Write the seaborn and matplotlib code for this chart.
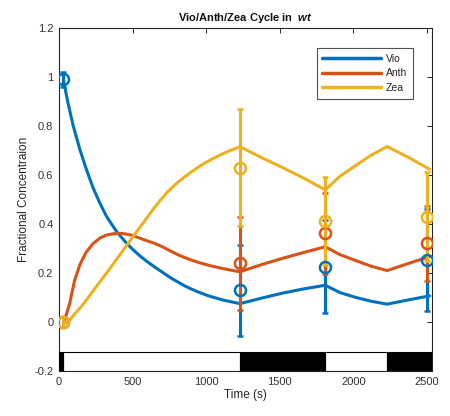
import numpy as np
import pandas as pd
import matplotlib
matplotlib.use("Agg")
import matplotlib.pyplot as plt
import seaborn as sns
from matplotlib.ticker import FuncFormatter

# ---- model curves ----
vio_t = [30, 57, 97, 143, 188, 233, 279, 324, 392, 460, 500, 550, 600, 664, 760, 856, 935, 1020, 1120, 1230,
         1380, 1520, 1670, 1810, 1910, 2020, 2120, 2230, 2380, 2520]
vio_v = [0.99, 0.906, 0.80, 0.702, 0.62, 0.546, 0.484, 0.43, 0.369, 0.321, 0.297, 0.27, 0.246, 0.219, 0.18,
         0.147, 0.125, 0.106, 0.089, 0.075, 0.098, 0.118, 0.136, 0.15, 0.12, 0.10, 0.085, 0.073, 0.091, 0.107]

anth_t = [30, 38, 55, 73, 90, 107, 143, 185, 233, 280, 324, 370, 426, 490, 550, 605, 650, 700, 760,
          822, 885, 950, 1020, 1100, 1165, 1230, 1380, 1520, 1670, 1810, 1910, 2020, 2120, 2230, 2380, 2520]
anth_v = [0.0, 0.008, 0.04, 0.076, 0.125, 0.171, 0.235, 0.285, 0.321, 0.343, 0.355, 0.36, 0.362, 0.355,
          0.342, 0.33, 0.321, 0.308, 0.289, 0.271, 0.256, 0.243, 0.231, 0.22, 0.212, 0.205, 0.235, 0.26,
          0.285, 0.307, 0.275, 0.25, 0.228, 0.21, 0.24, 0.267]

zea_t = [30, 50, 75, 107, 150, 197, 240, 288, 346, 400, 460, 515, 573, 630, 686, 740, 800, 856, 935, 990,
         1050, 1140, 1230, 1380, 1520, 1670, 1810, 1910, 2020, 2120, 2230, 2380, 2520]
zea_v = [0.0, -0.004, 0.01, 0.033, 0.062, 0.098, 0.133, 0.172, 0.218, 0.263, 0.312, 0.358, 0.405, 0.452,
         0.495, 0.532, 0.566, 0.593, 0.627, 0.648, 0.668, 0.694, 0.715, 0.67, 0.63, 0.585, 0.539, 0.595, 0.64,
         0.68, 0.716, 0.67, 0.623]

# ---- measured points with error bars ----
meas_t = [30, 1230, 1810, 2500]
vio_mean = [0.99, 0.13, 0.226, 0.253]
vio_err = [0.03, 0.185, 0.19, 0.207]
anth_mean = [0.0, 0.24, 0.362, 0.321]
anth_err = [0.02, 0.19, 0.166, 0.154]
zea_mean = [0.0, 0.63, 0.413, 0.43]
zea_err = [0.02, 0.24, 0.18, 0.183]

# ---- light/dark schedule bar ----
dark_segments = [(0, 30), (1230, 1810), (2230, 2535)]
light_segments = [(30, 1230), (1810, 2230)]

series_names = ["Vio", "Anth", "Zea"]
colors = {"Vio": "#0072BD", "Anth": "#D95319", "Zea": "#EDB120"}

sns.set_style("white")
plt.rcParams["font.family"] = ["Liberation Sans", "DejaVu Sans"]
plt.rcParams["mathtext.fontset"] = "custom"
plt.rcParams["mathtext.bfit"] = "Liberation Sans:bold:italic"
plt.rcParams["lines.solid_joinstyle"] = "round"

curves = pd.concat([
    pd.DataFrame({"t": vio_t, "v": vio_v, "s": "Vio"}),
    pd.DataFrame({"t": anth_t, "v": anth_v, "s": "Anth"}),
    pd.DataFrame({"t": zea_t, "v": zea_v, "s": "Zea"}),
])

fig = plt.figure(figsize=(4.5, 4.16), dpi=100)
ax = fig.add_axes([0.131, 0.108, 0.829, 0.825])

sns.lineplot(data=curves, x="t", y="v", hue="s", palette=colors, hue_order=series_names,
             linewidth=2.2, ax=ax, sort=False, estimator=None)

for name, m, e in [("Vio", vio_mean, vio_err), ("Anth", anth_mean, anth_err), ("Zea", zea_mean, zea_err)]:
    ax.errorbar(meas_t, m, yerr=e, fmt="o", mfc="none", mec=colors[name], ecolor=colors[name],
                ms=8, mew=1.8, elinewidth=2.2, capsize=2.5, capthick=2.2, zorder=4)

# schedule bar
ybar0, ybar_h = -0.2, 0.079
ax.broken_barh([(a, b - a) for a, b in light_segments], (ybar0, ybar_h), facecolors="white",
               edgecolors="black", linewidth=0.8, zorder=5)
ax.broken_barh([(a, b - a) for a, b in dark_segments], (ybar0, ybar_h), facecolors="black",
               edgecolors="black", linewidth=0.8, zorder=5)

ax.set_xlim(0, 2535)
ax.set_ylim(-0.2, 1.2)
ax.set_xticks([0, 500, 1000, 1500, 2000, 2500])
ax.set_yticks([-0.2, 0, 0.2, 0.4, 0.6, 0.8, 1.0, 1.2])
ax.yaxis.set_major_formatter(FuncFormatter(lambda v, p: "%g" % round(v, 2)))
ax.tick_params(direction="in", length=3.5, width=0.7, top=True, right=True,
               labelsize=8, colors="#262626", labelcolor="#333333", pad=4)
for sp in ax.spines.values():
    sp.set_color("#262626")
    sp.set_linewidth(0.8)

ax.set_xlabel("Time (s)", fontsize=8.5, color="#262626", labelpad=2)
ax.set_ylabel("Fractional Concentraion", fontsize=8.5, color="#262626", labelpad=3)
ax.set_title(r"Vio/Anth/Zea Cycle in  $\mathbfit{wt}$", fontsize=8, fontweight="bold",
             color="#111111", pad=5)

leg = ax.legend(loc="upper right", bbox_to_anchor=(0.949, 0.942), borderaxespad=0,
                fontsize=7.5, frameon=True, fancybox=False, handlelength=5.6,
                handletextpad=0.5, labelspacing=0.45, borderpad=0.55)
leg.get_frame().set_edgecolor("#262626")
leg.get_frame().set_linewidth(0.8)
for line in leg.get_lines():
    line.set_linewidth(2.5)

fig.savefig("out.png", dpi=100)
